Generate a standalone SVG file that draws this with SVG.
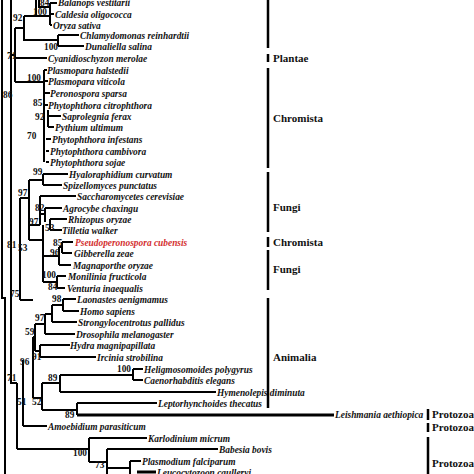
<svg xmlns="http://www.w3.org/2000/svg" width="474" height="474" viewBox="0 0 474 474">
<style>
.b{fill:none;stroke:#000;stroke-width:2}
.t{stroke-width:3}
.bar{fill:none;stroke:#000;stroke-width:2.5}
.sp{font-family:"Liberation Serif",serif;font-style:italic;font-weight:bold;font-size:9.4px;fill:#111}
.red{fill:#d32f2f}
.bs{font-family:"Liberation Serif",serif;font-weight:bold;font-size:9.3px;fill:#111}
.cl{font-family:"Liberation Serif",serif;font-weight:bold;font-size:11px;fill:#111}
</style>
<rect width="474" height="474" fill="#fff"/>
<g id="connectors">
<path class="b" d="M2,0V298H5V474M11,0V383H17"/>
<path class="b" d="M50,3V25M50,3H57M50,14H54M50,25H52M39,0V7H50M36,0V16M24,16H50M24,16V40H58M58,35V46M58,35H79M58,46H84M15,28H24M15,28V82M11,55H15M15,58H47M15,82H44"/>
<path class="b" d="M44,70V162M44,70H47M44,81H48M44,93H50M44,105H48M48,110V127M48,116H61M48,127H54M46,139H51M46,151H49M46,162H49"/>
<path class="b" d="M43,174V185M43,174H68M43,185H62M29,180H43M29,180V240M20,198H29M20,198V300M40,196V225M40,196H76M45,208V222M45,208H62M50,219V230M50,219H67M50,230H62M29,225H40M45,214H40"/>
<path class="b" d="M62,242V253M62,242H73M62,253H72M59,247V265M59,247H62M59,265H71M43,225V282M43,256H59M29,240H43M57,276V288M57,276H66M57,288H65M43,282H57"/>
<path class="b" d="M63,299V311M63,299H76M63,311H79M52,305H63M52,305V322M52,322H77M45,314H52M45,314V334M45,334H75M35,324H45M35,324V351M40,345V357M40,345H70M40,357H96M35,351H40M33,337H35M33,337V398M33,398H42M20,300H33"/>
<path class="b" d="M133,369V380M133,369H143M133,380H143M60,375H133M60,375V392M60,392H216M42,383H60M42,383V410M42,410H77M77,403V415M77,403H157"/>
<path class="b t" d="M77,415H334"/>
<path class="b" d="M23,360V426M23,426H47M17,383V449M17,449H89M89,438V462M89,438H147M89,462H107M107,449V474M107,449H218M107,468H130M130,461V474M130,461H141"/>
<path class="b t" d="M137,472H156"/>
</g>
<g id="labels">
<text class="bs" x="40" y="6">84</text>
<text class="bs" x="33" y="15">100</text>
<text class="bs" x="13" y="21">92</text>
<text class="bs" x="44" y="50">100</text>
<text class="bs" x="7" y="59">71</text>
<text class="bs" x="27" y="81">100</text>
<text class="bs" x="3" y="98">86</text>
<text class="bs" x="33" y="106">85</text>
<text class="bs" x="35" y="120">92</text>
<text class="bs" x="27" y="139">70</text>
<text class="bs" x="33" y="175">99</text>
<text class="bs" x="18" y="196">97</text>
<text class="bs" x="35" y="211">82</text>
<text class="bs" x="29" y="225">97</text>
<text class="bs" x="45" y="231">53</text>
<text class="bs" x="7" y="248">81</text>
<text class="bs" x="18" y="251">53</text>
<text class="bs" x="53" y="246">85</text>
<text class="bs" x="50" y="256">96</text>
<text class="bs" x="42" y="278">100</text>
<text class="bs" x="48" y="290">84</text>
<text class="bs" x="10" y="297">75</text>
<text class="bs" x="52" y="302">98</text>
<text class="bs" x="35" y="321">97</text>
<text class="bs" x="25" y="335">59</text>
<text class="bs" x="32" y="360">91</text>
<text class="bs" x="20" y="365">96</text>
<text class="bs" x="117" y="372">100</text>
<text class="bs" x="7" y="381">71</text>
<text class="bs" x="48" y="381">89</text>
<text class="bs" x="17" y="405">51</text>
<text class="bs" x="32" y="405">52</text>
<text class="bs" x="65" y="418">89</text>
<text class="bs" x="73" y="456">100</text>
<text class="bs" x="95" y="468">73</text>
</g>
<g id="leaves">
<text class="sp" x="58" y="6">Balanops vestitarii</text>
<text class="sp" x="55" y="17.5">Caldesia oligococca</text>
<text class="sp" x="53" y="28.5">Oryza sativa</text>
<text class="sp" x="80" y="38.5">Chlamydomonas reinhardtii</text>
<text class="sp" x="85" y="49.5">Dunaliella salina</text>
<text class="sp" x="48" y="61.5">Cyanidioschyzon merolae</text>
<text class="sp" x="47" y="73.5">Plasmopara halstedii</text>
<text class="sp" x="48" y="84.5">Plasmopara viticola</text>
<text class="sp" x="50" y="96.5">Peronospora sparsa</text>
<text class="sp" x="48" y="108.5">Phytophthora citrophthora</text>
<text class="sp" x="62" y="119.5">Saprolegnia ferax</text>
<text class="sp" x="55" y="130.5">Pythium ultimum</text>
<text class="sp" x="52" y="142.5">Phytophthora infestans</text>
<text class="sp" x="50" y="154.5">Phytophthora cambivora</text>
<text class="sp" x="50" y="165.5">Phytophthora sojae</text>
<text class="sp" x="69" y="177.5">Hyaloraphidium curvatum</text>
<text class="sp" x="63" y="188.5">Spizellomyces punctatus</text>
<text class="sp" x="77" y="199.5">Saccharomycetes cerevisiae</text>
<text class="sp" x="63" y="211.5">Agrocybe chaxingu</text>
<text class="sp" x="68" y="222.5">Rhizopus oryzae</text>
<text class="sp" x="62" y="233.5">Tilletia walker</text>
<text class="sp red" x="75" y="245.5">Pseudoperonospora cubensis</text>
<text class="sp" x="74" y="256.5">Gibberella zeae</text>
<text class="sp" x="73" y="268.5">Magnaporthe oryzae</text>
<text class="sp" x="68" y="279.5">Monilinia fructicola</text>
<text class="sp" x="67" y="291.5">Venturia inaequalis</text>
<text class="sp" x="77" y="302.5">Laonastes aenigmamus</text>
<text class="sp" x="80" y="314.5">Homo sapiens</text>
<text class="sp" x="78" y="325.5">Strongylocentrotus pallidus</text>
<text class="sp" x="76" y="337.5">Drosophila melanogaster</text>
<text class="sp" x="70" y="348.5">Hydra magnipapillata</text>
<text class="sp" x="97" y="360.5">Ircinia strobilina</text>
<text class="sp" x="144" y="372.5">Heligmosomoides polygyrus</text>
<text class="sp" x="144" y="383.5">Caenorhabditis elegans</text>
<text class="sp" x="217" y="395.5">Hymenolepis diminuta</text>
<text class="sp" x="158" y="406.5">Leptorhynchoides thecatus</text>
<text class="sp" x="335" y="417.5">Leishmania aethiopica</text>
<text class="sp" x="48" y="429.5">Amoebidium parasiticum</text>
<text class="sp" x="148" y="441.5">Karlodinium micrum</text>
<text class="sp" x="219" y="452.5">Babesia bovis</text>
<text class="sp" x="142" y="464.5">Plasmodium falciparum</text>
<text class="sp" x="157" y="475.5">Leucocytozoon caulleryi</text>
</g>
<g id="clades">
<path class="bar" d="M268,0V48M268,54V62M268,68V168M268,172V232M268,237V247M268,250V290M268,298V408M428,409V420M428,423V432M428,437V474"/>
<text class="cl" x="273" y="62">Plantae</text>
<text class="cl" x="273" y="122">Chromista</text>
<text class="cl" x="273" y="211">Fungi</text>
<text class="cl" x="273" y="246">Chromista</text>
<text class="cl" x="273" y="273">Fungi</text>
<text class="cl" x="273" y="361">Animalia</text>
<text class="cl" x="432" y="418">Protozoa</text>
<text class="cl" x="432" y="431">Protozoa</text>
<text class="cl" x="432" y="467">Protozoa</text>
</g>
</svg>
